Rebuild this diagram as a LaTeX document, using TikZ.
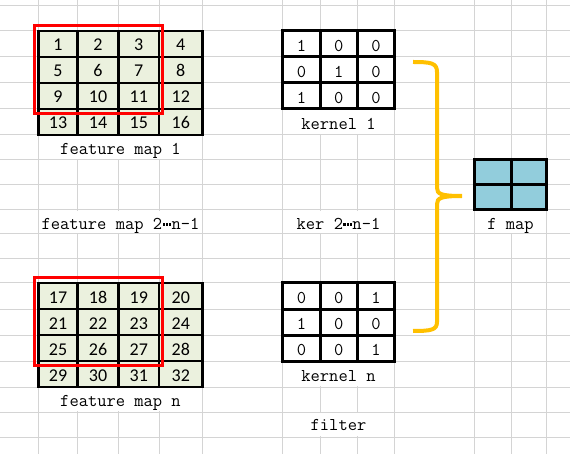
\documentclass[tikz,border=0pt]{standalone}
\usepackage{fontspec}
\setsansfont{Carlito}
\usepackage{xcolor}
\usepackage{tikz}
\usetikzlibrary{calc}

\definecolor{gridgray}{HTML}{D4D4D4}
\definecolor{cellgreen}{HTML}{EBF1DE}
\definecolor{cellblue}{HTML}{92CDDC}
\definecolor{braceyellow}{HTML}{FFC000}
\newcommand{\middots}{\makebox[0.525em]{\rule[0.24em]{2.2pt}{2.2pt}\hspace{1pt}\rule[0.24em]{2.2pt}{2.2pt}\hspace{1pt}\rule[0.24em]{2.2pt}{2.2pt}}}

\begin{document}
\begin{tikzpicture}[x=1pt, y=-1pt,
    sheet/.style={gridgray, line width=1pt},
    fmtbl/.style={line width=2.6pt},
    ktbl/.style={line width=3pt},
    window/.style={red, line width=3pt},
    num/.style={anchor=base, inner sep=0pt, font=\sffamily\fontsize{18}{18}\selectfont},
    knum/.style={anchor=base, inner sep=0pt, font=\ttfamily\fontsize{18}{18}\selectfont},
    lbl/.style={anchor=base, inner sep=0pt, font=\ttfamily\fontsize{18}{18}\selectfont}]
  \useasboundingbox (0,0) rectangle (570,454);
  % sheet grid
  \foreach \gx in {38.5,77.5,118.5,159,202.5,282.5,320.5,357.5,394.5,474.5,511,546.5}
    \draw[sheet] (\gx,0) -- (\gx,454);
  \foreach \gy in {6,31,57,83,109,135,160,185,210,234,259,283,309,335,361,387,412,437}
    \draw[sheet] (0,\gy) -- (570,\gy);
  % merged label cells
  \foreach \xa/\ya/\xb/\yb in {38.5/135/202.5/160, 38.5/210/202.5/234, 38.5/387/202.5/412,
      282.5/109/394.5/135, 282.5/210/394.5/234, 282.5/361/394.5/387, 282.5/412/394.5/437,
      474.5/210/546.5/234}
    \fill[white] (\xa+0.6,\ya+0.6) rectangle (\xb-0.6,\yb-0.6);

  % feature maps
  \foreach \top/\first/\tag in {31/1/a, 283/17/n} {
    \fill[cellgreen] (38.5,\top) rectangle (202.5,\top+104);
    \foreach \cx [count=\c from 0] in {58,98,138.75,180.75}
      \foreach \r in {0,...,3} {
        \pgfmathtruncatemacro\cellnum{\first+4*\r+\c}
        \node[num] (fm\tag-\cellnum) at (\cx,\top+20+26*\r) {\cellnum};
      }
    \draw[fmtbl] (38.5,\top) rectangle (202.5,\top+104);
    \foreach \gx in {77.5,118.5,159}
      \draw[fmtbl] (\gx,\top) -- (\gx,\top+104);
    \foreach \r in {1,2,3}
      \draw[fmtbl] (38.5,\top+26*\r) -- (202.5,\top+26*\r);
    \draw[window] (34.5,\top-5.3) rectangle (162.3,\top+82.2);
  }

  % kernel 1
  \foreach \v [count=\i from 0] in {1,0,0,0,1,0,1,0,0} {
    \pgfmathtruncatemacro\c{mod(\i,3)}
    \pgfmathtruncatemacro\r{\i/3}
    \node[knum] (ka-\i) at (301.5+37.25*\c,51.5+26*\r) {\v};
  }
  % kernel n
  \foreach \v [count=\i from 0] in {0,0,1,1,0,0,0,0,1} {
    \pgfmathtruncatemacro\c{mod(\i,3)}
    \pgfmathtruncatemacro\r{\i/3}
    \node[knum] (kn-\i) at (301.5+37.25*\c,303.5+26*\r) {\v};
  }
  \foreach \top in {31,283} {
    \draw[ktbl] (282.5,\top) rectangle (394.5,\top+78);
    \foreach \gx in {320.5,357.5}
      \draw[ktbl] (\gx,\top) -- (\gx,\top+78);
    \draw[ktbl] (282.5,\top+26) -- (394.5,\top+26) (282.5,\top+52) -- (394.5,\top+52);
  }

  % output map
  \filldraw[fill=cellblue, ktbl] (474.5,160) rectangle (546.5,210);
  \draw[ktbl] (511,160) -- (511,210) (474.5,185) -- (546.5,185);

  % brace
  \coordinate (brace top) at (413,62);
  \coordinate (brace tip) at (462,196);
  \coordinate (brace bot) at (413,331);
  \draw[braceyellow, line width=4pt] (brace top) .. controls (431,62) and (437,63) .. (437,72)
    -- (437,188) .. controls (437,194) and (441,196) .. (brace tip)
    .. controls (441,196) and (437,198) .. (437,204)
    -- (437,322) .. controls (437,330) and (431,331) .. (brace bot);

  % labels
  \node[lbl] (fm1 label) at (120.5,155) {feature map 1};
  \node[lbl] (fmmid label) at (120.5,230) {feature map 2\middots n-1};
  \node[lbl] (fmn label) at (120.5,406.5) {feature map n};
  \node[lbl] (k1 label) at (338.5,129.5) {kernel 1};
  \node[lbl] (kmid label) at (338.5,230) {ker 2\middots n-1};
  \node[lbl] (kn label) at (338.5,381.5) {kernel n};
  \node[lbl] (filter label) at (338.5,430.5) {filter};
  \node[lbl] (fmap label) at (510.5,230) {f map};
\end{tikzpicture}
\end{document}
